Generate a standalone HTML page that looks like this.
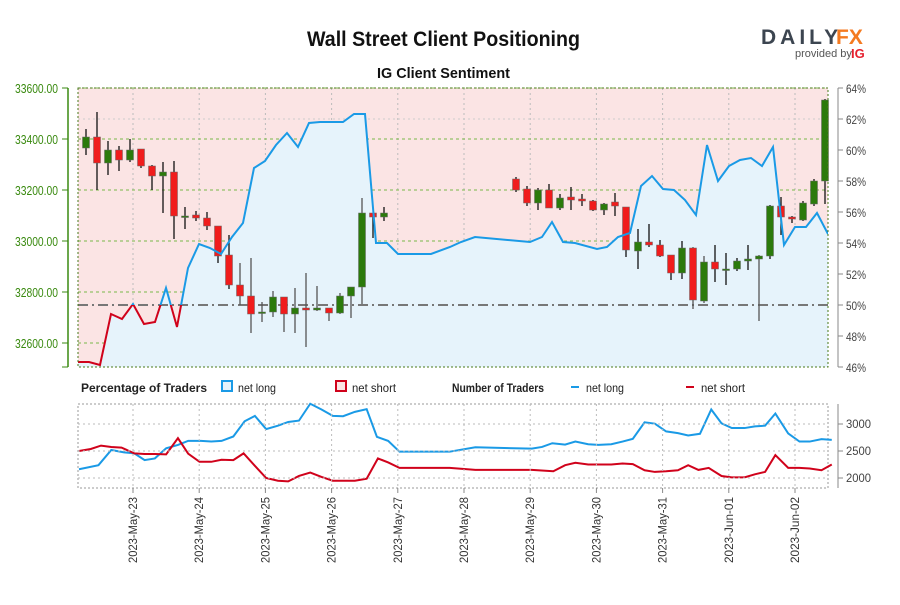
<!DOCTYPE html>
<html><head><meta charset="utf-8"><style>
body{margin:0;background:#fff;width:900px;height:600px;overflow:hidden;font-family:"Liberation Sans",sans-serif}
</style></head><body>
<svg id="s" width="900" height="600" xmlns="http://www.w3.org/2000/svg" font-family="Liberation Sans, sans-serif">
<text x="307" y="46" textLength="273" lengthAdjust="spacingAndGlyphs" font-size="21" font-weight="bold" fill="#111">Wall Street Client Positioning</text>
<text x="377" y="78" textLength="133" lengthAdjust="spacingAndGlyphs" font-size="15" font-weight="bold" fill="#111">IG Client Sentiment</text>
<text x="761" y="44" font-size="21" font-weight="bold" fill="#3c4550" letter-spacing="4">DAILY</text><text x="836" y="44" font-size="21" font-weight="bold" fill="#f47a20">FX</text>
<text x="795" y="57" font-size="11" fill="#555">provided by</text><text x="851" y="58" font-size="13" font-weight="bold" fill="#e5202e">IG</text>
<defs>
<clipPath id="cp"><rect x="78" y="88" width="750" height="279"/></clipPath>
<clipPath id="above"><rect x="78" y="88" width="750" height="217"/></clipPath>
<clipPath id="below"><rect x="78" y="305" width="750" height="62"/></clipPath>
</defs>
<rect x="78" y="88" width="750" height="279" fill="#fbe4e4"/>
<g id="grid"></g>
<path id="area" fill="#e6f3fb" clip-path="url(#cp)"/>
<line x1="78" y1="305" x2="828" y2="305" stroke="#777" stroke-width="2" stroke-dasharray="10,4,2,4"/>
<g id="cand"></g>
<polyline id="sb" fill="none" stroke="#1a9ae6" stroke-width="2" clip-path="url(#above)"/>
<polyline id="sr" fill="none" stroke="#d0021b" stroke-width="2" clip-path="url(#below)"/>
<rect x="78" y="88" width="750" height="279" fill="none" stroke="#4a7a1a" stroke-dasharray="2,2"/>
<line x1="68" y1="88" x2="68" y2="367" stroke="#3a8a10" stroke-width="1.5"/>
<line x1="838" y1="88" x2="838" y2="367" stroke="#888" stroke-width="1"/>
<g id="ax"></g>
<g font-size="12" font-weight="bold" fill="#222">
<text x="81" y="392" textLength="126" lengthAdjust="spacingAndGlyphs">Percentage of Traders</text>
<rect x="222" y="381" width="10" height="10" fill="#e6f3fb" stroke="#1a9ae6" stroke-width="2"/><text x="238" y="392" font-weight="normal" textLength="38" lengthAdjust="spacingAndGlyphs">net long</text>
<rect x="336" y="381" width="10" height="10" fill="#fbe4e4" stroke="#d0021b" stroke-width="2"/><text x="352" y="392" font-weight="normal" textLength="44" lengthAdjust="spacingAndGlyphs">net short</text>
<text x="452" y="392" textLength="92" lengthAdjust="spacingAndGlyphs">Number of Traders</text>
<line x1="571" y1="387" x2="579" y2="387" stroke="#1a9ae6" stroke-width="2"/><text x="586" y="392" font-weight="normal" textLength="38" lengthAdjust="spacingAndGlyphs">net long</text>
<line x1="686" y1="387" x2="694" y2="387" stroke="#d0021b" stroke-width="2"/><text x="701" y="392" font-weight="normal" textLength="44" lengthAdjust="spacingAndGlyphs">net short</text>
</g>
<rect x="78" y="404" width="750" height="84" fill="none" stroke="#999" stroke-dasharray="2,2"/>
<line x1="838" y1="404" x2="838" y2="488" stroke="#888"/>
<g transform="translate(60,424) scale(0.5128,0.3375) translate(0,-148)">
<polyline fill="none" stroke="#1a9ae6" stroke-width="2" vector-effect="non-scaling-stroke" points="37,282 75,270 100,225 125,232 145,235 165,255 185,250 207,220 230,210 250,198 275,198 295,200 315,198 338,185 360,140 380,124 402,163 425,153 445,142 466,138 488,88 510,105 532,124 552,125 575,112 598,104 618,186 640,198 662,230 760,230 810,217 920,221 940,216 960,205 985,209 1005,200 1030,208 1050,210 1075,208 1097,200 1117,192 1140,143 1160,147 1182,170 1205,175 1225,182 1248,177 1270,105 1290,146 1310,160 1335,160 1355,155 1375,153 1395,117 1420,176 1442,200 1462,200 1485,193 1505,195"/>
<polyline fill="none" stroke="#d0021b" stroke-width="2" vector-effect="non-scaling-stroke" points="37,228 60,222 80,212 100,216 120,218 145,235 165,237 185,237 207,238 230,190 250,236 272,260 295,260 315,254 338,255 358,235 380,272 402,308 425,316 445,318 466,302 488,292 510,305 532,316 552,316 575,316 598,310 620,250 640,262 662,278 760,278 810,284 920,284 962,288 985,270 1005,263 1030,268 1075,268 1097,265 1117,267 1140,285 1160,290 1182,288 1205,285 1225,270 1245,284 1265,278 1290,302 1310,306 1335,306 1355,297 1375,290 1395,240 1420,278 1442,278 1462,280 1485,285 1505,268"/>
</g>
<g id="bx"></g>
</svg>
<script>
var S="http://www.w3.org/2000/svg";
function el(p,t,a,txt){var e=document.createElementNS(S,t);for(var k in a)e.setAttribute(k,a[k]);if(txt)e.textContent=txt;document.getElementById(p).appendChild(e);return e;}
var days=["2023-May-23","2023-May-24","2023-May-25","2023-May-26","2023-May-27","2023-May-28","2023-May-29","2023-May-30","2023-May-31","2023-Jun-01","2023-Jun-02"];
for(var i=0;i<11;i++){var x=133+i*66.2;
el("grid","line",{x1:x,y1:88,x2:x,y2:367,stroke:"#bbb","stroke-dasharray":"2,3"});
el("bx","line",{x1:x,y1:404,x2:x,y2:488,stroke:"#bbb","stroke-dasharray":"2,3"});
el("bx","line",{x1:x,y1:488,x2:x,y2:493,stroke:"#888"});
el("bx","text",{x:0,y:0,"font-size":"12",fill:"#333","text-anchor":"end",textLength:"66",lengthAdjust:"spacingAndGlyphs",transform:"translate("+(x+4)+",497) rotate(-90)"},days[i]);}
var py=[[33600,88],[33400,139],[33200,190],[33000,241],[32800,292],[32600,343]];
py.forEach(function(p){el("grid","line",{x1:78,y1:p[1],x2:828,y2:p[1],stroke:"#7ab84a","stroke-dasharray":"3,3"});
el("ax","line",{x1:62,y1:p[1],x2:68,y2:p[1],stroke:"#3a8a10"});
el("ax","text",{x:15,y:p[1]+5,"font-size":"13",fill:"#3a8a10",textLength:"43",lengthAdjust:"spacingAndGlyphs"},p[0].toFixed(2));});
el("ax","line",{x1:62,y1:367,x2:68,y2:367,stroke:"#3a8a10"});
el("grid","line",{x1:78,y1:119,x2:828,y2:119,stroke:"#ccc","stroke-dasharray":"2,3"});
for(var k=0;k<10;k++){var y=88+k*31;var v=64-2*k;el("ax","line",{x1:838,y1:y,x2:843,y2:y,stroke:"#888"});
el("ax","text",{x:846,y:y+5,"font-size":"12",fill:"#444",textLength:"20",lengthAdjust:"spacingAndGlyphs"},v+"%");}
[[3000,424],[2500,451],[2000,478]].forEach(function(p){el("bx","line",{x1:78,y1:p[1],x2:828,y2:p[1],stroke:"#bbb","stroke-dasharray":"2,3"});
el("bx","line",{x1:838,y1:p[1],x2:843,y2:p[1],stroke:"#888"});el("bx","text",{x:846,y:p[1]+4,"font-size":"12",fill:"#444",textLength:"25",lengthAdjust:"spacingAndGlyphs"},p[0]);});
var pts=[[78,362],[89,362],[100,365],[111,314],[122,319],[133,304],[144,324],[155,322],[166,288],[177,327],[188,268],[199,244],[210,248],[221,254],[232,237],[243,223],[254,168],[265,161],[276,145],[287,133],[298,147],[309,123],[320,122],[343,122],[354,114],[365,114],[376,243],[387,243],[398,254],[431,254],[450,247],[461,242],[475,237],[530,242],[542,237],[552,222],[563,242],[575,243],[597,249],[607,247],[618,237],[630,233],[641,186],[652,176],[663,189],[674,190],[685,200],[696,215],[707,145],[718,181],[729,166],[740,160],[751,158],[762,166],[773,147],[784,245],[795,227],[806,227],[817,213],[828,234]];
var ps=pts.map(function(p){return p.join(",")}).join(" ");
document.getElementById("sb").setAttribute("points",ps);document.getElementById("sr").setAttribute("points",ps);
document.getElementById("area").setAttribute("d","M"+pts.map(function(p){return p.join(",")}).join(" L")+" L828,367 L78,367Z");
var c=[[86,"g",137,148,129,155],[97,"r",137,163,112,190],[108,"g",150,163,141,175],[119,"r",150,160,146,171],[130,"g",150,160,139,162],[141,"r",149,166,149,168],[152,"r",166,176,165,190],[163,"g",172,176,162,213],[174,"r",172,216,161,239],[185,"d",216,216,207,229],[196,"r",215,218,211,221],[207,"r",218,226,212,230],[218,"r",226,256,226,263],[229,"r",255,285,235,289],[240,"r",285,296,263,305],[251,"r",296,314,258,333],[262,"d",312,312,302,322],[273,"g",297,312,291,317],[284,"r",297,314,297,332],[295,"g",308,314,288,333],[306,"r",308,310,273,347],[317,"g",308,310,286,311],[329,"r",308,313,308,321],[340,"g",296,313,293,314],[351,"g",287,296,287,318],[362,"g",213,287,198,304],[373,"r",213,217,213,238],[384,"g",213,217,207,221],
[516,"r",179,190,177,192],[527,"r",189,203,186,206],[538,"g",190,203,188,210],[549,"r",190,208,184,208],[560,"g",198,208,194,210],[571,"r",197,200,187,210],[582,"r",199,201,194,206],[593,"r",201,210,200,211],[604,"g",204,210,203,215],[615,"r",202,206,193,216],[626,"r",207,250,207,257],[638,"g",242,251,229,269],[649,"r",242,245,224,247],[660,"r",245,256,240,257],[671,"r",255,273,255,280],[682,"g",248,273,241,279],[693,"r",248,300,247,309],[704,"g",262,301,256,303],[715,"r",262,269,245,282],[726,"d",269,269,253,285],[737,"g",261,269,258,271],[748,"g",259,261,245,270],[759,"g",256,259,255,321],[770,"g",206,256,205,259],[781,"r",206,217,197,235],[792,"r",217,219,216,223],[803,"g",203,220,201,221],[814,"g",181,204,179,206],[825,"g",100,181,99,204]];
c.forEach(function(d){var x=d[0],col=d[1]=="r"?"#f01c1c":"#2b7a0b";
el("cand","line",{x1:x,y1:d[4],x2:x,y2:d[5],stroke:d[4]>300||d[5]>300?"#555":"#111","stroke-width":1.3});
var h=Math.max(d[3]-d[2],1.5);el("cand","rect",{x:x-3.5,y:d[2],width:7,height:h,fill:col,stroke:"#666","stroke-width":0.5});});
</script>
</body></html>
